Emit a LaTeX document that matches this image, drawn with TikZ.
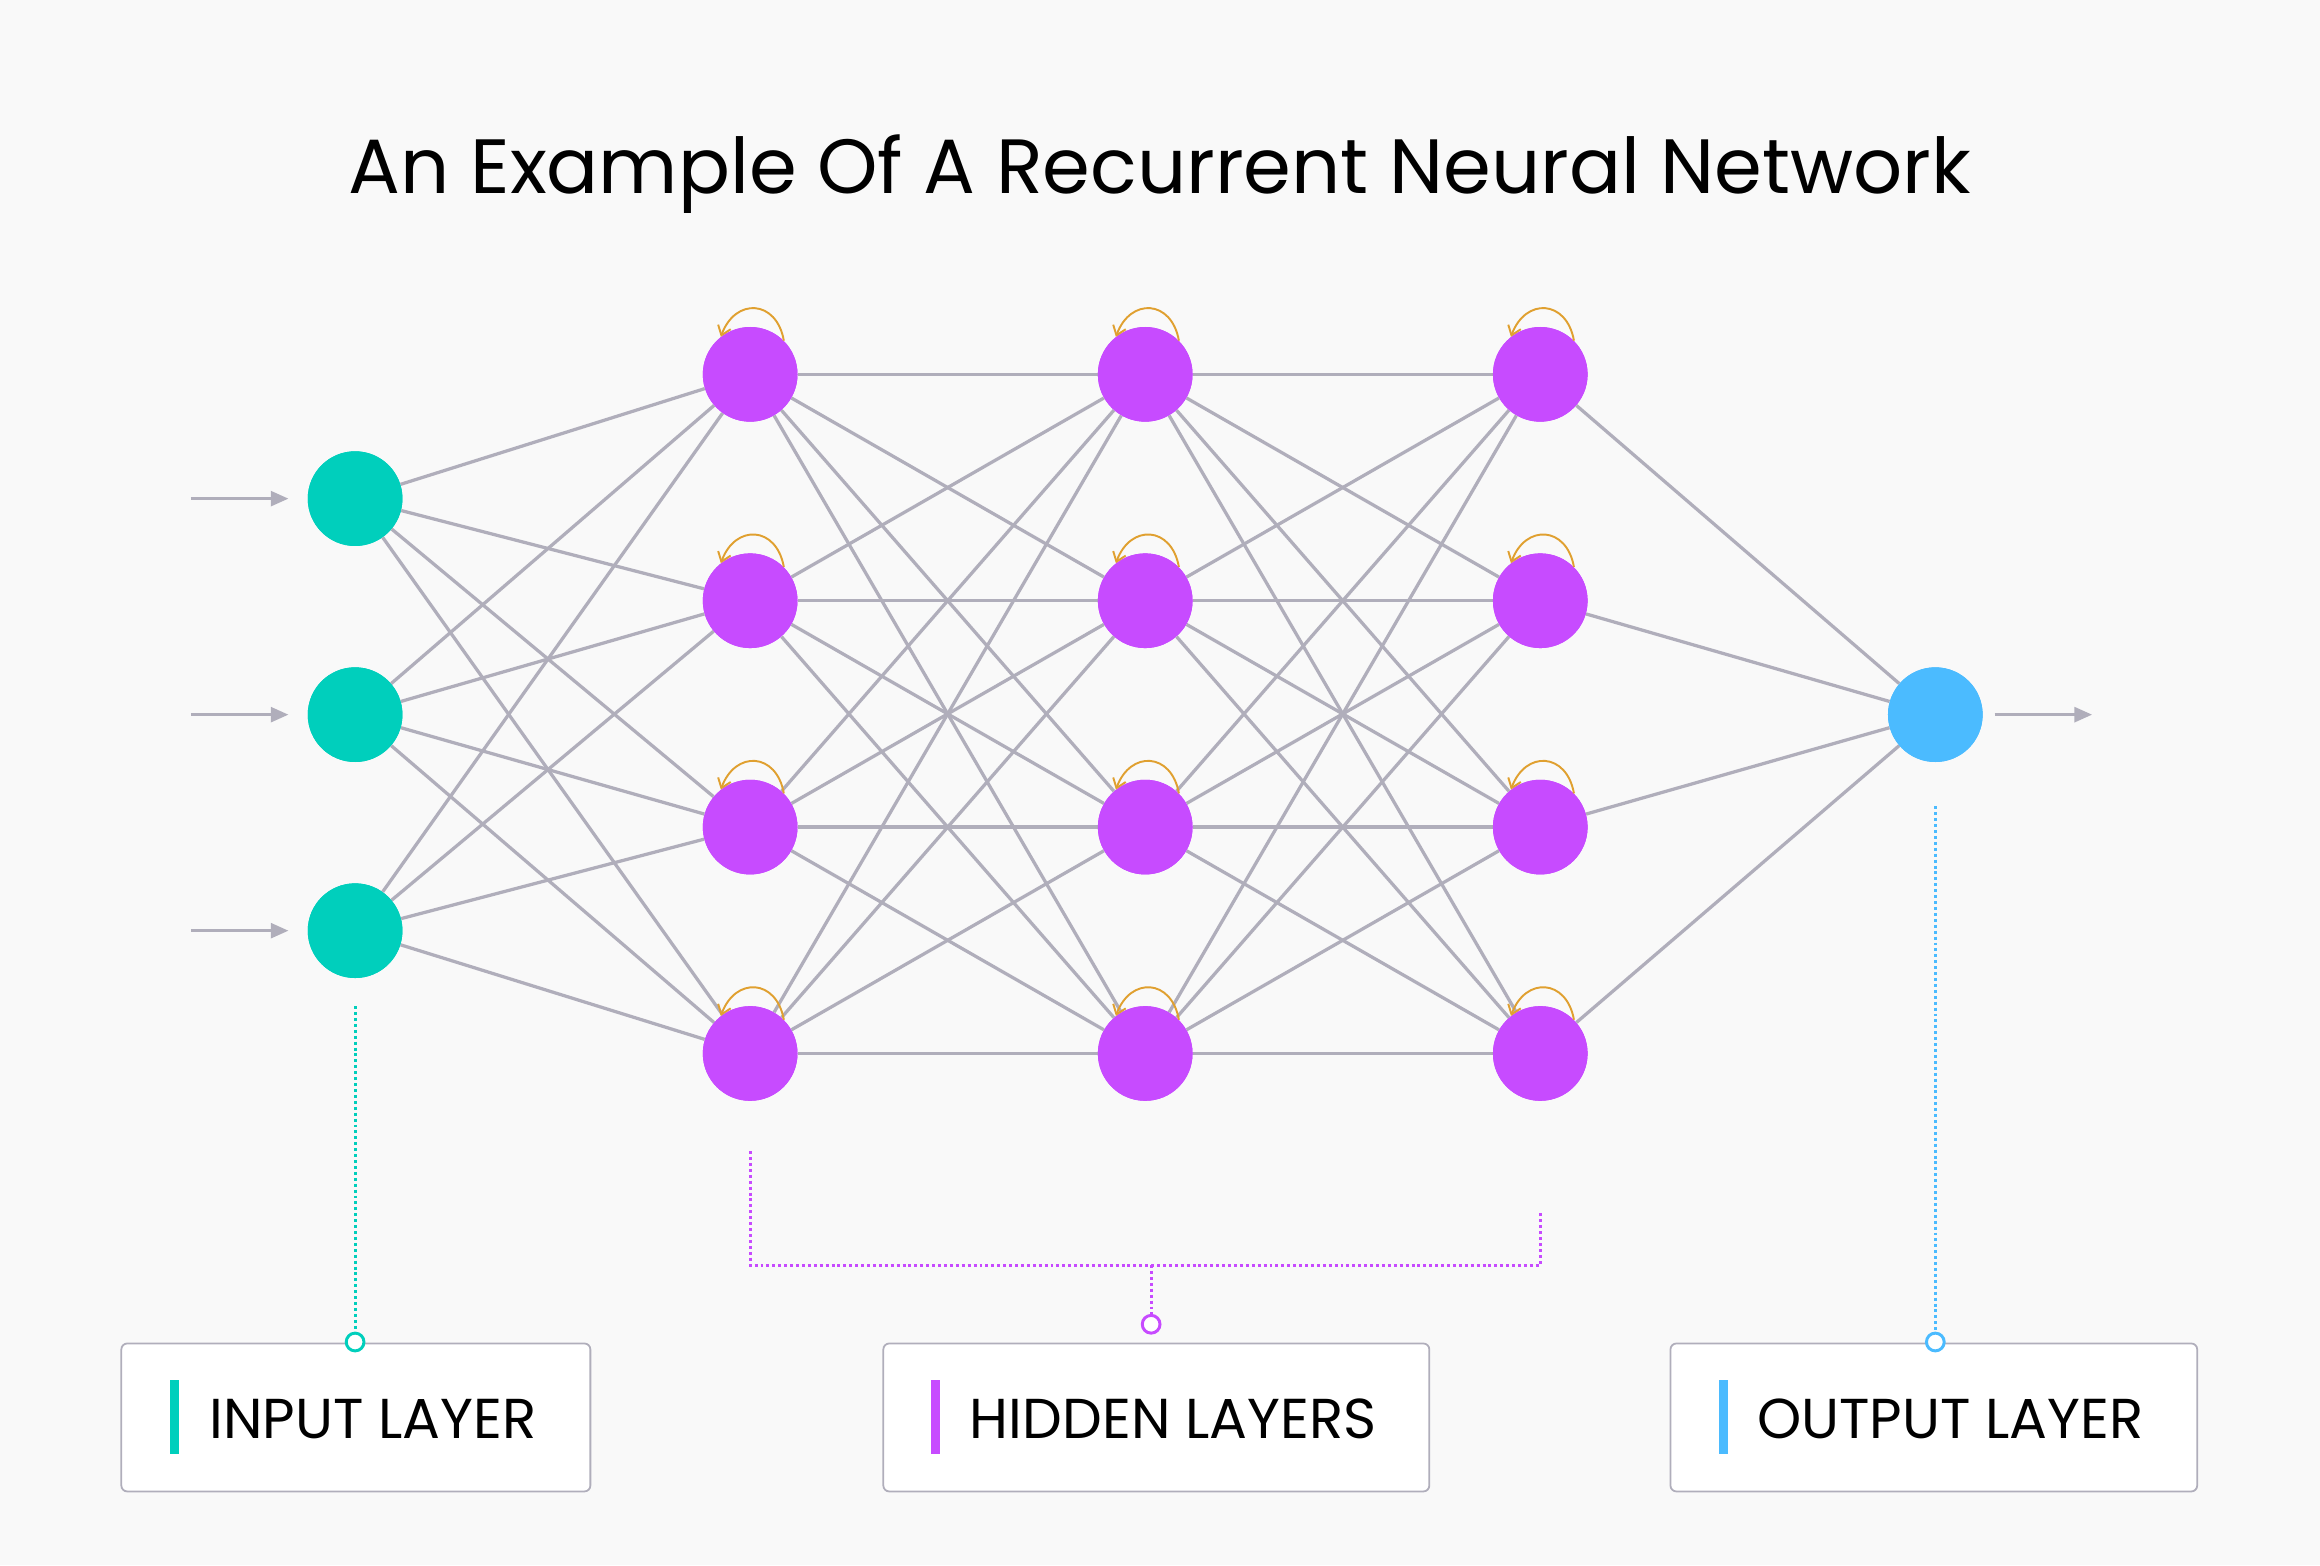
\documentclass[tikz,border=0pt]{standalone}
\usepackage{fontspec}
\setmainfont{Poppins}
\usetikzlibrary{arrows.meta}
\definecolor{bgc}{HTML}{F9F9F9}
\definecolor{inc}{HTML}{00CFBC}
\definecolor{hidc}{HTML}{C74BFF}
\definecolor{outc}{HTML}{4BBBFF}
\definecolor{edgec}{HTML}{B0AEBB}
\definecolor{loopc}{HTML}{E0A030}
\begin{document}
\begin{tikzpicture}[x=1pt,y=-1pt,
    neuron/.style={circle,minimum size=64pt,inner sep=0pt},
    link/.style={edgec,line width=2.2pt},
    feed/.style={edgec,line width=2.2pt,-{Triangle[length=12pt,width=10pt]}},
    selfloop/.style={loopc,line width=1.3pt,-{Straight Barb[length=6pt,width=9pt]}},
    guide/.style={dotted,line width=2pt},
    legend/.style={draw=edgec,line width=1.2pt,rounded corners=4pt,fill=white}]
    % background
    \fill[bgc] (0,0) rectangle (1568,1058);
    \useasboundingbox (0,0) rectangle (1568,1058);

    \node[font=\fontsize{52}{60}\selectfont\mdseries] (title) at (784,118) {An Example Of A Recurrent Neural Network};

    % neurons
    \foreach \i/\yy in {1/337,2/483,3/629}
        \node[neuron,fill=inc] (in\i) at (240,\yy) {};
    \foreach \l/\xx in {1/507,2/774,3/1041}
        \foreach \j/\yy in {1/253,2/406,3/559,4/712}
            \node[neuron,fill=hidc] (h\l\j) at (\xx,\yy) {};
    \node[neuron,fill=outc] (out) at (1308,483) {};

    % connections
    \begin{scope}[on background layer/.style={}]
    \foreach \i in {1,2,3}
        \foreach \j in {1,...,4}
            \draw[link] (in\i) -- (h1\j);
    \foreach \j in {1,...,4}
        \foreach \k in {1,...,4} {
            \draw[link] (h1\j) -- (h2\k);
            \draw[link] (h2\j) -- (h3\k);
        }
    \foreach \j in {1,...,4}
        \draw[link] (h3\j) -- (out);
    \end{scope}
    \foreach \i in {1,2,3}
        \node[neuron,fill=inc] at (in\i) {};
    \foreach \l in {1,2,3}
        \foreach \j in {1,...,4}
            \node[neuron,fill=hidc] at (h\l\j) {};
    \node[neuron,fill=outc] at (out) {};

    % self loops
    \foreach \l in {1,2,3}
        \foreach \j in {1,...,4}
            \draw[selfloop] (h\l\j.45) to[out=100,in=70,looseness=1.7] (h\l\j.128);

    % inputs and output
    \foreach \i in {1,2,3} {
        \coordinate (src\i) at ([xshift=-111pt]in\i.center);
        \draw[feed] (src\i) -- ([xshift=-45pt]in\i.center);
    }
    \coordinate (sink) at ([xshift=106pt]out.center);
    \draw[feed] ([xshift=40pt]out.center) -- (sink);

    % legend boxes
    \node[legend,minimum width=317pt,minimum height=100pt] (inbox) at (240.5,958) {};
    \node[legend,minimum width=369pt,minimum height=100pt] (hidbox) at (781.5,958) {};
    \node[legend,minimum width=356pt,minimum height=100pt] (outbox) at (1307,958) {};
    \fill[inc] (115,933) rectangle (121,983);
    \fill[hidc] (629,933) rectangle (635,983);
    \fill[outc] (1162,933) rectangle (1168,983);
    \node[anchor=west,font=\fontsize{38}{44}\selectfont] (inlab) at (138,959) {INPUT LAYER};
    \node[anchor=west,font=\fontsize{38}{44}\selectfont] (hidlab) at (652,959) {HIDDEN LAYERS};
    \node[anchor=west,font=\fontsize{38}{44}\selectfont] (outlab) at (1184,959) {OUTPUT LAYER};

    % guides
    \coordinate (ina) at (240,680);
    \draw[guide,inc] (ina) -- (240,901);
    \draw[inc,line width=2pt,fill=white] (240,907) circle (6pt);
    \coordinate (outa) at (1308,545);
    \draw[guide,outc] (outa) -- (1308,901);
    \draw[outc,line width=2pt,fill=white] (1308,907) circle (6pt);
    \draw[guide,hidc] (507,778) -- (507,855) -- (1041,855) -- (1041,820);
    \draw[guide,hidc] (778,855) -- (778,889);
    \draw[hidc,line width=2pt,fill=white] (778,895) circle (6pt);
\end{tikzpicture}
\end{document}
